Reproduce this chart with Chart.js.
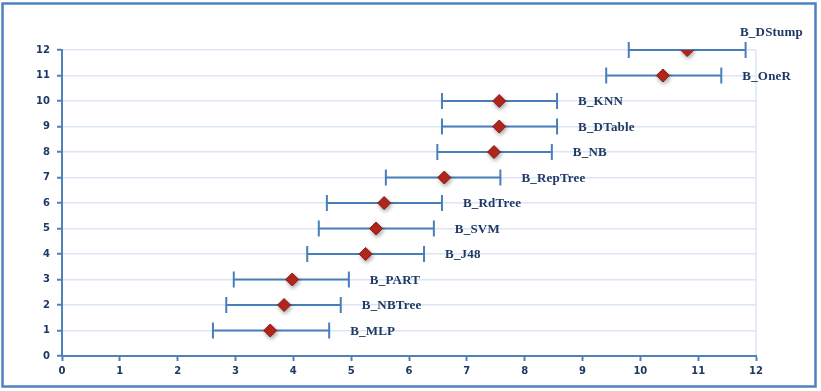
<!DOCTYPE html>
<html>
<head>
<meta charset="utf-8">
<script src="https://cdn.jsdelivr.net/npm/chart.js@4.4.1/dist/chart.umd.min.js"></script>
<style>
  html, body { margin: 0; padding: 0; background: #ffffff; }
  #wrap { width: 821px; height: 391px; position: relative; }
</style>
</head>
<body>
<div id="wrap"><canvas id="chart" width="821" height="391"></canvas></div>
<script>
// values
const labels = ['B_MLP', 'B_NBTree', 'B_PART', 'B_J48', 'B_SVM', 'B_RdTree',
                'B_RepTree', 'B_NB', 'B_DTable', 'B_KNN', 'B_OneR', 'B_DStump'];
const ranks  = [1, 2, 3, 4, 5, 6, 7, 8, 9, 10, 11, 12];
const means  = [3.60, 3.84, 3.98, 5.25, 5.43, 5.57, 6.61, 7.47, 7.56, 7.56, 10.39, 10.81];
const lows   = [2.61, 2.84, 2.97, 4.24, 4.44, 4.58, 5.60, 6.49, 6.57, 6.57, 9.41, 9.80];
const highs  = [4.62, 4.82, 4.96, 6.26, 6.43, 6.57, 7.58, 8.47, 8.56, 8.56, 11.40, 11.82];
const xTicks = [0, 1, 2, 3, 4, 5, 6, 7, 8, 9, 10, 11, 12];
const yTicks = [0, 1, 2, 3, 4, 5, 6, 7, 8, 9, 10, 11, 12];

const axisBlue = '#4F81BD';
const gridBlue = '#DCE6F2';
const textNavy = '#1F3864';

// frame around the whole chart + right edge of plot area
const framePlugin = {
  id: 'frame',
  beforeDraw(chart) {
    const ctx = chart.ctx;
    const a = chart.chartArea;
    ctx.save();
    ctx.strokeStyle = gridBlue;
    ctx.lineWidth = 1.5;
    ctx.beginPath();
    ctx.moveTo(a.right, a.top);
    ctx.lineTo(a.right, a.bottom);
    ctx.stroke();
    ctx.strokeStyle = axisBlue;
    ctx.lineWidth = 2.5;
    ctx.strokeRect(2.5, 3.5, 813, 383);
    ctx.restore();
  }
};

// horizontal error bars with caps
const errorBars = {
  id: 'errorBars',
  beforeDatasetsDraw(chart) {
    const ctx = chart.ctx;
    const xs = chart.scales.x, ys = chart.scales.y;
    ctx.save();
    ctx.strokeStyle = '#4A7EBB';
    ctx.lineWidth = 2;
    ranks.forEach((r, i) => {
      const y = ys.getPixelForValue(r);
      const x0 = xs.getPixelForValue(lows[i]);
      const x1 = xs.getPixelForValue(highs[i]);
      ctx.beginPath();
      ctx.moveTo(x0, y); ctx.lineTo(x1, y);
      ctx.moveTo(x0, y - 8); ctx.lineTo(x0, y + 8);
      ctx.moveTo(x1, y - 8); ctx.lineTo(x1, y + 8);
      ctx.stroke();
    });
    ctx.restore();
  },
  beforeDatasetDraw(chart) {
    const ctx = chart.ctx;
    ctx.save();
    ctx.shadowColor = 'rgba(0,0,0,0.35)';
    ctx.shadowBlur = 4;
    ctx.shadowOffsetX = 1;
    ctx.shadowOffsetY = 2;
  },
  afterDatasetDraw(chart) {
    chart.ctx.restore();
  }
};

// text labels to the right of each bar
const pointLabels = {
  id: 'pointLabels',
  afterDatasetsDraw(chart) {
    const ctx = chart.ctx;
    const xs = chart.scales.x, ys = chart.scales.y;
    ctx.save();
    ctx.font = 'bold 13px "Liberation Serif", "Times New Roman", serif';
    ctx.fillStyle = textNavy;
    ctx.textBaseline = 'middle';
    if ('letterSpacing' in ctx) ctx.letterSpacing = '0.2px';
    labels.forEach((lab, i) => {
      const y = ys.getPixelForValue(ranks[i]);
      let x = xs.getPixelForValue(highs[i]) + 21;
      const w = ctx.measureText(lab).width;
      if (x + w > chart.width - 12) {
        // no room on the right: put it above the bar end
        ctx.textAlign = 'right';
        ctx.fillText(lab, chart.width - 18, y - 17);
      } else {
        ctx.textAlign = 'left';
        ctx.fillText(lab, x, y + 1);
      }
    });
    ctx.restore();
  }
};

const ctx = document.getElementById('chart').getContext('2d');

new Chart(ctx, {
  type: 'scatter',
  data: {
    datasets: [{
      data: means.map((m, i) => ({ x: m, y: ranks[i] })),
      pointStyle: 'rectRot',
      pointRadius: 6.5,
      pointHoverRadius: 6.5,
      backgroundColor: '#B5281E',
      borderColor: '#8E1C14',
      borderWidth: 1
    }]
  },
  options: {
    responsive: false,
    animation: false,
    events: [],
    layout: { padding: { left: 0, top: 50, right: 65, bottom: 0 } },
    plugins: {
      legend: { display: false },
      tooltip: { enabled: false }
    },
    scales: {
      x: {
        type: 'linear',
        min: xTicks[0],
        max: xTicks[xTicks.length - 1],
        afterFit: s => { s.height = 35; },
        afterBuildTicks: s => { s.ticks = xTicks.map(v => ({ value: v })); },
        border: { color: axisBlue, width: 2 },
        grid: { drawOnChartArea: false, drawTicks: true, tickLength: 5, tickColor: axisBlue, tickWidth: 2 },
        ticks: {
          color: textNavy,
          padding: 4,
          font: { family: '"DejaVu Sans", Verdana, sans-serif', size: 10, weight: 'bold' }
        }
      },
      y: {
        type: 'linear',
        min: yTicks[0],
        max: yTicks[yTicks.length - 1],
        afterFit: s => { s.width = 62; },
        afterBuildTicks: s => { s.ticks = yTicks.map(v => ({ value: v })); },
        border: { color: axisBlue, width: 2 },
        grid: { color: gridBlue, lineWidth: 1.5, drawTicks: true, tickLength: 5, tickColor: axisBlue, tickWidth: 2 },
        ticks: {
          color: textNavy,
          padding: 7,
          font: { family: '"DejaVu Sans", Verdana, sans-serif', size: 10, weight: 'bold' }
        }
      }
    }
  },
  plugins: [framePlugin, errorBars, pointLabels]
});
</script>
</body>
</html>
